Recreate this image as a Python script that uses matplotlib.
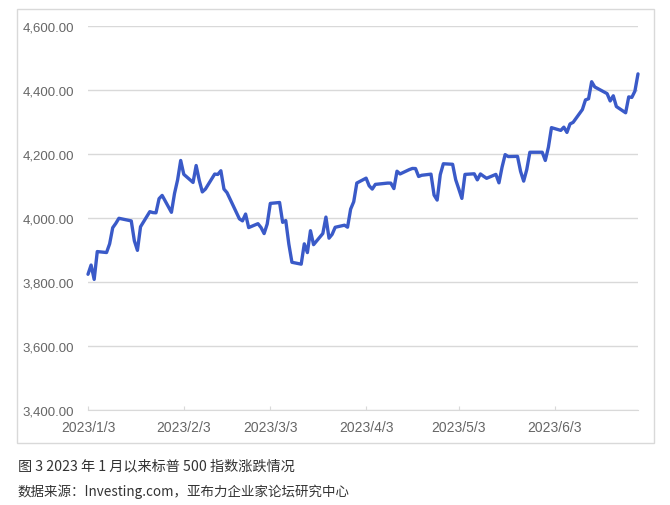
import matplotlib
matplotlib.use("Agg")
import matplotlib.pyplot as plt
import matplotlib.patches as mpatches
import pandas as pd

# S&P 500 daily closes, 2023 H1 (Investing.com)
dates = [
    "2023-01-03", "2023-01-04", "2023-01-05", "2023-01-06", "2023-01-09", "2023-01-10",
    "2023-01-11", "2023-01-12", "2023-01-13", "2023-01-17", "2023-01-18", "2023-01-19",
    "2023-01-20", "2023-01-23", "2023-01-24", "2023-01-25", "2023-01-26", "2023-01-27",
    "2023-01-30", "2023-01-31",
    "2023-02-01", "2023-02-02", "2023-02-03", "2023-02-06", "2023-02-07", "2023-02-08",
    "2023-02-09", "2023-02-10", "2023-02-13", "2023-02-14", "2023-02-15", "2023-02-16",
    "2023-02-17", "2023-02-21", "2023-02-22", "2023-02-23", "2023-02-24", "2023-02-27",
    "2023-02-28",
    "2023-03-01", "2023-03-02", "2023-03-03", "2023-03-06", "2023-03-07", "2023-03-08",
    "2023-03-09", "2023-03-10", "2023-03-13", "2023-03-14", "2023-03-15", "2023-03-16",
    "2023-03-17", "2023-03-20", "2023-03-21", "2023-03-22", "2023-03-23", "2023-03-24",
    "2023-03-27", "2023-03-28", "2023-03-29", "2023-03-30", "2023-03-31",
    "2023-04-03", "2023-04-04", "2023-04-05", "2023-04-06", "2023-04-10", "2023-04-11",
    "2023-04-12", "2023-04-13", "2023-04-14", "2023-04-17", "2023-04-18", "2023-04-19",
    "2023-04-20", "2023-04-21", "2023-04-24", "2023-04-25", "2023-04-26", "2023-04-27",
    "2023-04-28",
    "2023-05-01", "2023-05-02", "2023-05-03", "2023-05-04", "2023-05-05", "2023-05-08",
    "2023-05-09", "2023-05-10", "2023-05-11", "2023-05-12", "2023-05-15", "2023-05-16",
    "2023-05-17", "2023-05-18", "2023-05-19", "2023-05-22", "2023-05-23", "2023-05-24",
    "2023-05-25", "2023-05-26", "2023-05-30", "2023-05-31",
    "2023-06-01", "2023-06-02", "2023-06-05", "2023-06-06", "2023-06-07", "2023-06-08",
    "2023-06-09", "2023-06-12", "2023-06-13", "2023-06-14", "2023-06-15", "2023-06-16",
    "2023-06-20", "2023-06-21", "2023-06-22", "2023-06-23", "2023-06-26", "2023-06-27",
    "2023-06-28", "2023-06-29", "2023-06-30",
]
closes = [
    3824.14, 3852.97, 3808.10, 3895.08, 3892.09, 3919.25,
    3969.61, 3983.17, 3999.09, 3990.97, 3928.86, 3898.85,
    3972.61, 4019.81, 4016.95, 4016.22, 4060.43, 4070.56,
    4017.77, 4076.60,
    4119.21, 4179.76, 4136.48, 4111.08, 4164.00, 4117.86,
    4081.50, 4090.46, 4137.29, 4136.13, 4147.60, 4090.41,
    4079.09, 3997.34, 3991.05, 4012.32, 3970.04, 3982.24,
    3970.15,
    3951.39, 3981.35, 4045.64, 4048.42, 3986.37, 3992.01,
    3918.32, 3861.59, 3855.76, 3919.29, 3891.93, 3960.28,
    3916.64, 3951.57, 4002.87, 3936.97, 3948.72, 3970.99,
    3977.53, 3971.27, 4027.81, 4050.83, 4109.31,
    4124.51, 4100.60, 4090.38, 4105.02, 4109.11, 4108.94,
    4091.95, 4146.22, 4137.64, 4151.32, 4154.87, 4154.52,
    4129.79, 4133.52, 4137.04, 4071.63, 4055.99, 4135.35,
    4169.48,
    4167.87, 4119.58, 4090.75, 4061.22, 4136.25, 4138.12,
    4119.17, 4137.64, 4130.62, 4124.08, 4136.28, 4109.90,
    4158.77, 4198.05, 4191.98, 4192.63, 4145.58, 4115.24,
    4151.28, 4205.45, 4205.52, 4179.83,
    4221.02, 4282.37, 4273.79, 4283.85, 4267.52, 4293.93,
    4298.86, 4338.93, 4369.01, 4372.59, 4425.84, 4409.59,
    4388.71, 4365.69, 4381.89, 4348.33, 4328.82, 4378.41,
    4376.86, 4396.44, 4450.38,
]
tick_dates = ["2023-01-03", "2023-02-03", "2023-03-03", "2023-04-03", "2023-05-03", "2023-06-03"]
tick_labels = ["2023/1/3", "2023/2/3", "2023/3/3", "2023/4/3", "2023/5/3", "2023/6/3"]
y_ticks = [3400, 3600, 3800, 4000, 4200, 4400, 4600]

caption = "图 3 2023 年 1 月以来标普 500 指数涨跌情况"
source = "数据来源：Investing.com，亚布力企业家论坛研究中心"

x = pd.to_datetime(dates)

fig = plt.figure(figsize=(6.7, 5.06), dpi=100)
ax = fig.add_axes([88 / 670, 1 - 411 / 506, 550 / 670, 384 / 506])

# light frame round the chart area
fig.patches.append(mpatches.Rectangle(
    (17 / 670, 1 - 444 / 506), 637 / 670, 434 / 506,
    transform=fig.transFigure, fill=False, edgecolor="#d9d9d9", linewidth=1.0))

ax.plot(x, closes, color="#3a5ac8", linewidth=2.4, solid_joinstyle="round",
        solid_capstyle="round", clip_on=False)

ax.set_ylim(3400, 4600)
ax.set_yticks(y_ticks)
ax.set_yticklabels([f"{v:,.2f}" for v in y_ticks])
ax.set_xlim(x[0], x[-1])
ax.set_xticks(pd.to_datetime(tick_dates))
ax.set_xticklabels(tick_labels)

ax.grid(axis="y", color="#d9d9d9", linewidth=1.0)
ax.set_axisbelow(True)
for s in ["top", "right", "left"]:
    ax.spines[s].set_visible(False)
ax.spines["bottom"].set_color("#d9d9d9")
ax.spines["bottom"].set_zorder(0)

ax.tick_params(axis="y", length=0, pad=10, labelsize=9.5, labelcolor="#666666")
ax.tick_params(axis="x", direction="in", length=3, color="#d9d9d9",
               pad=7, labelsize=10, labelcolor="#666666")
for lab in ax.get_xticklabels() + ax.get_yticklabels():
    lab.set_family(["Liberation Sans", "DejaVu Sans"])

cjk = ["Noto Sans CJK SC", "DejaVu Sans"]
fig.text(18 / 670, 1 - 466 / 506, caption, family=cjk, fontsize=10.2,
         color="#333333", va="center", ha="left")
fig.text(18 / 670, 1 - 492 / 506, source, family=cjk, fontsize=9.7,
         color="#333333", va="center", ha="left")

fig.savefig("out.png", dpi=100)
